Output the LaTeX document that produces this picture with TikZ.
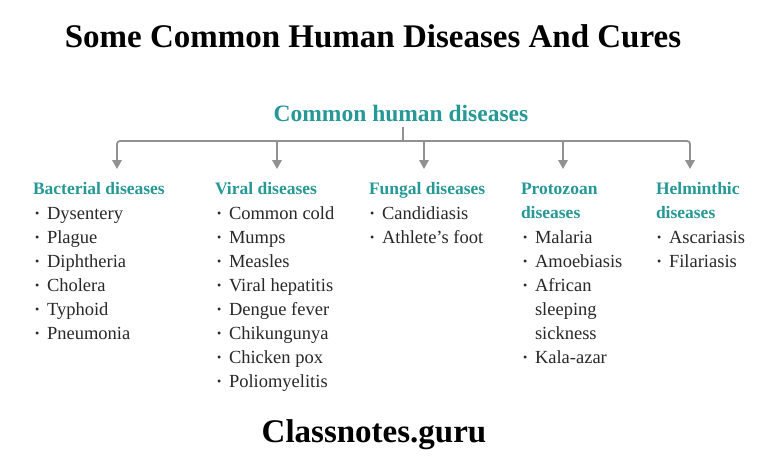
\documentclass[tikz,border=0pt]{standalone}
\usepackage{fontspec}
\setmainfont{Liberation Serif}
\usetikzlibrary{arrows.meta}
\definecolor{teal1}{RGB}{38,152,150}
\definecolor{ink}{RGB}{40,40,40}
\definecolor{gline}{RGB}{145,145,145}
\tikzset{
  lbl/.style={anchor=base west, inner sep=0pt, outer sep=0pt},
  ttl/.style={anchor=base, inner sep=0pt, font=\fontsize{33}{38}\selectfont\bfseries, text=black},
  rootsty/.style={anchor=base, inner sep=0pt, font=\fontsize{23.5}{28}\selectfont\bfseries, text=teal1},
  hdr/.style={lbl, font=\fontsize{17.5}{24}\selectfont\bfseries, text=teal1},
  itm/.style={lbl, font=\fontsize{18.5}{24}\selectfont, text=ink},
  bul/.style={lbl, font=\fontsize{12}{24}\selectfont, text=ink},
  conn/.style={draw=gline, line width=1.8pt},
  arr/.style={conn, -{Triangle[width=9.5pt,length=9pt]}},
  arrs/.style={conn, {Triangle[width=9.5pt,length=9pt]}-{Triangle[width=9.5pt,length=9pt]}, rounded corners=3pt},
}
\newcommand{\mkitem}[4]{% name, x, y, text
  \node[bul] (#1b) at (#2,#3-1.5) {\textbullet};
  \node[itm] (#1) at (#2+12,#3) {#4};
}
\begin{document}
\begin{tikzpicture}[x=1pt,y=-1pt]
\useasboundingbox (0,0) rectangle (768,466);
\fill[white] (0,0) rectangle (768,466);

\node[ttl] (title) at (373,47) {Some Common Human Diseases And Cures};
\node[rootsty] (root) at (401,121) {Common human diseases};

\coordinate (rootb) at (403,127);
\coordinate (hub) at (403,141);
\coordinate (t1) at (117,169);
\coordinate (t2) at (277,169);
\coordinate (t3) at (424,169);
\coordinate (t4) at (563,169);
\coordinate (t5) at (690,169);

\draw[conn] (rootb) -- (hub);
\draw[arrs] (t1) |- (hub) -| (t5);
\draw[arr] (t2 |- hub) -- (t2);
\draw[arr] (t3 |- hub) -- (t3);
\draw[arr] (t4 |- hub) -- (t4);

% headers
\node[hdr] (h1) at (33,194) {Bacterial diseases};
\node[hdr] (h2) at (215,194) {Viral diseases};
\node[hdr] (h3) at (369,194) {Fungal diseases};
\node[hdr] (h4a) at (521,194) {Protozoan};
\node[hdr] (h4b) at (521,218) {diseases};
\node[hdr] (h5a) at (656,194) {Helminthic};
\node[hdr] (h5b) at (656,218) {diseases};

% bacterial
\mkitem{b1}{35}{219}{Dysentery}
\mkitem{b2}{35}{243}{Plague}
\mkitem{b3}{35}{267}{Diphtheria}
\mkitem{b4}{35}{291}{Cholera}
\mkitem{b5}{35}{315}{Typhoid}
\mkitem{b6}{35}{339}{Pneumonia}

% viral
\mkitem{v1}{217}{219}{Common cold}
\mkitem{v2}{217}{243}{Mumps}
\mkitem{v3}{217}{267}{Measles}
\mkitem{v4}{217}{291}{Viral hepatitis}
\mkitem{v5}{217}{315}{Dengue fever}
\mkitem{v6}{217}{339}{Chikungunya}
\mkitem{v7}{217}{363}{Chicken pox}
\mkitem{v8}{217}{387}{Poliomyelitis}

% fungal
\mkitem{f1}{370}{219}{Candidiasis}
\mkitem{f2}{370}{243}{Athlete’s foot}

% protozoan
\mkitem{p1}{523}{243}{Malaria}
\mkitem{p2}{523}{267}{Amoebiasis}
\mkitem{p3}{523}{291}{African}
\node[itm] (p3b) at (535,315) {sleeping};
\node[itm] (p3c) at (535,339) {sickness};
\mkitem{p4}{523}{363}{Kala-azar}

% helminthic
\mkitem{m1}{657}{243}{Ascariasis}
\mkitem{m2}{657}{267}{Filariasis}

\node[ttl] (foot) at (374,442) {Classnotes.guru};
\end{tikzpicture}
\end{document}
